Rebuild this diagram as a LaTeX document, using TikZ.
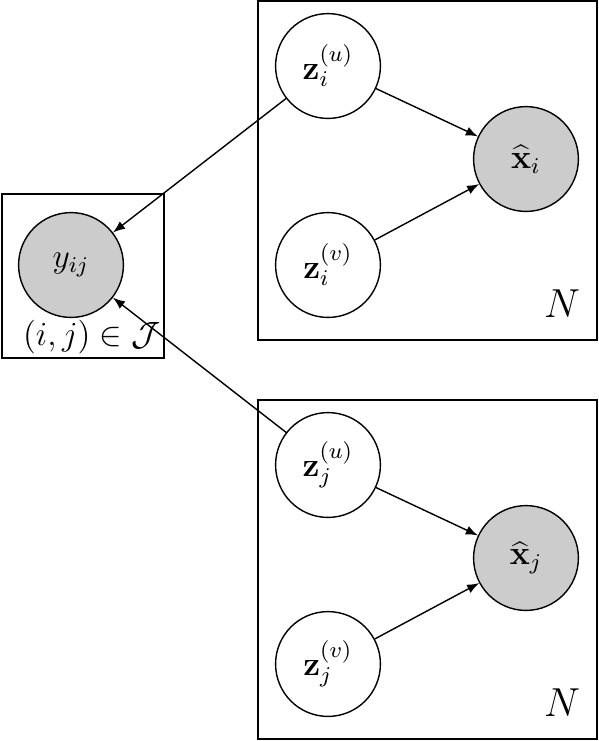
\documentclass[tikz,border=0pt]{standalone}
\usetikzlibrary{arrows}

\begin{document}
\begin{tikzpicture}[x=0.0125cm, y=-0.0125cm, line width=0.5pt, >=latex,
	every node/.style={font=\large},
	latent/.style={circle, draw, fill=white, minimum size=1.31cm, inner sep=0pt},
	obs/.style={latent, fill=gray!40}]
	\useasboundingbox (0,0) rectangle (599,741);
	% pair plate
	\draw (2,194) rectangle (164,358);
	\node[obs] (y) at (71,265) {$y_{ij}$};
	\node (pair) at (92,337) {$(i,j)\in\mathcal{J}$};
	% one plate per index
	\foreach \k/\dy in {i/0, j/399}
	{
		\draw (258,1+\dy) rectangle (597,340+\dy);
		\node[font=\Large] (N\k) at (562,304+\dy) {$N$};
		\node[latent] (zu\k) at (328,66+\dy) {$\mathbf{z}_\k^{(u)}$};
		\node[latent] (zv\k) at (328,265+\dy) {$\mathbf{z}_\k^{(v)}$};
		\node[obs] (x\k) at (526,159+\dy) {$\widehat{\mathbf{x}}_\k$};
		\draw[->] (zu\k) -- (x\k);
		\draw[->] (zv\k) -- (x\k);
		\draw[->] (zu\k) -- (y);
	}
\end{tikzpicture}
\end{document}
